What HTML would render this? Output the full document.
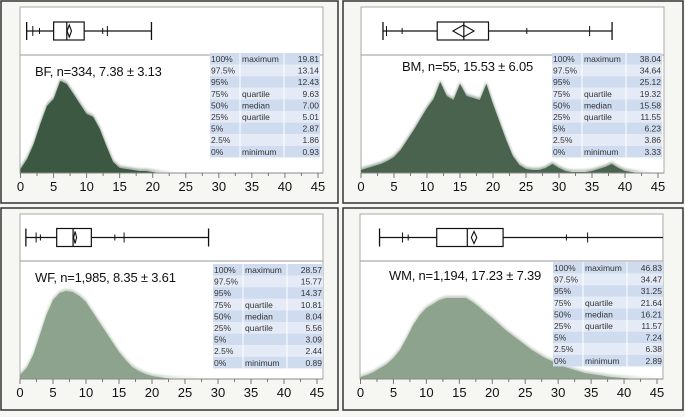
<!DOCTYPE html>
<html><head><meta charset="utf-8"><style>
html,body{margin:0;padding:0;background:#f6f6f2;}
svg{display:block;font-family:"Liberation Sans",sans-serif;}
</style></head><body>
<svg id="c" width="685" height="417" viewBox="0 0 685 417"></svg>
<script>
const grid = [];
for (let i = 0; i <= 45; i++) grid.push(i);
const tickLabels = [0,5,10,15,20,25,30,35,40,45];
const quantLabels = ["100%","97.5%","95%","75%","50%","25%","5%","2.5%","0%"];
const quantNames = ["maximum","","","quartile","median","quartile","","","minimum"];

const bfQuant = [19.81,13.14,12.43,9.63,7.00,5.01,2.87,1.86,0.93];
const bmQuant = [38.04,34.64,25.12,19.32,15.58,11.55,6.23,3.86,3.33];
const wfQuant = [28.57,15.77,14.37,10.81,8.04,5.56,3.09,2.44,0.89];
const wmQuant = [46.83,34.47,31.25,21.64,16.21,11.57,7.24,6.38,2.89];
const bfMean = 7.38, bmMean = 15.53, wfMean = 8.35, wmMean = 17.23;
const bfSd = 3.13, bmSd = 6.05, wfSd = 3.61, wmSd = 7.39;

const bfDens = [5,15,30,50,68,75,93,90,80,70,60,57,45,28,12,6,5,4,3,3,2,1,0.5,0,0,0,0,0,0,0,0,0,0,0,0,0,0,0,0,0,0,0,0,0,0,0];
const bmDens = [4,6,8,10,13,17,24,34,44,55,66,75,92,78,74,90,78,76,74,90,70,52,34,18,9,5,4,4,6,10,6,3,2,2,2,3,5,7,10,6,3,2,1,0.5,0,0];
const wfDens = [5,12,25,45,65,80,87,89,88,84,78,68,58,48,38,28,20,13,9,6,4,3,2,1.5,1,0.7,0.5,0.3,0.2,0,0,0,0,0,0,0,0,0,0,0,0,0,0,0,0,0];
const wmDens = [3,5,8,12,16,22,30,42,55,65,72,76,80,82,82,82,82,78,73,67,62,56,50,45,40,35,30,26,22,19,16,13,11,9,7,6,5,4,3,2.5,2,1.5,1,0.8,0.5,0.3];

const NS = "http://www.w3.org/2000/svg";
const svg = document.getElementById('c');
function mk(tag, attrs, parent){
  const e = document.createElementNS(NS, tag);
  for (const k in attrs) e.setAttribute(k, attrs[k]);
  (parent||svg).appendChild(e);
  return e;
}

const panels = [
  {id:"bf", label:"BF", n:"334", q:bfQuant, mean:bfMean, sd:bfSd, dens:bfDens, color:"#3d5842", ox:1, oy:1, ow:337, oh:202, px:20, py:7, x0:20.5, x45:318, sep:55, axis:173, tx:210, ty:53, title:[35,76]},
  {id:"bm", label:"BM", n:"55", q:bmQuant, mean:bmMean, sd:bmSd, dens:bmDens, color:"#4a634f", ox:343, oy:1, ow:340, oh:202, px:361, py:7, x0:361, x45:658, sep:55, axis:173, tx:552, ty:53, title:[402,71]},
  {id:"wf", label:"WF", n:"1,985", q:wfQuant, mean:wfMean, sd:wfSd, dens:wfDens, color:"#8ea38e", ox:1, oy:208, ow:337, oh:202, px:20, py:214, x0:20, x45:317, sep:261, axis:379, tx:213, ty:264, title:[35,282]},
  {id:"wm", label:"WM", n:"1,194", q:wmQuant, mean:wmMean, sd:wmSd, dens:wmDens, color:"#8ea38e", ox:343, oy:208, ow:340, oh:202, px:360, py:214, x0:360.5, x45:657, sep:261, axis:379, tx:553, ty:262, title:[389,280]}
];

const defs = mk('defs', {});
const f = mk('filter', {id:'soft', x:'-5%', y:'-5%', width:'110%', height:'110%'}, defs);
mk('feGaussianBlur', {stdDeviation:'1.2'}, f);

panels.forEach(p => {
  const g = mk('g', {});
  
  
  const sx = v => p.x0 + (p.x45 - p.x0) * v / 45;
  const cp = mk('clipPath', {id:'clip-'+p.id}, defs);
  mk('rect', {x:p.px, y:p.py, width:303, height:p.axis-p.py}, cp);
  const frame = mk('rect', {x:p.ox, y:p.oy, width:p.ow, height:p.oh, fill:'#f6f6f2', stroke:'#333', 'stroke-width':1.5}, g);
  
  
  const plot = mk('rect', {x:p.px, y:p.py, width:303, height:p.axis - p.py, fill:'#fff', stroke:'#aaa', 'stroke-width':1}, g);
  
  
  mk('line', {x1:p.px, x2:p.px+303, y1:p.sep, y2:p.sep, stroke:'#999', 'stroke-width':1}, g);

  const inner = mk('g', {'clip-path':'url(#clip-'+p.id+')'}, g);
  // density
  const base = p.axis - 1;
  let d = 'M' + sx(grid[0]) + ',' + base;
  grid.forEach((v, i) => { d += ' L' + sx(v).toFixed(1) + ',' + (base - p.dens[i]).toFixed(1); });
  d += ' L' + sx(grid[grid.length-1]) + ',' + base + ' Z';
  const dp = mk('path', {d:d, fill:p.color, opacity:0.55, filter:'url(#soft)'}, inner);
  
  
  const dp2 = mk('path', {d:d, fill:p.color, transform:'translate(0,2)'}, inner);
  
  

  // axis
  mk('line', {x1:p.px, x2:p.px+303, y1:p.axis, y2:p.axis, stroke:'#888', 'stroke-width':1}, g);
  for (let v = 0; v <= 45; v += 2.5) {
    const major = v % 5 === 0;
    mk('line', {x1:sx(v), x2:sx(v), y1:p.axis, y2:p.axis + (major?5:3), stroke:'#777', 'stroke-width':1}, g);
  }
  tickLabels.forEach(v => {
    const t = mk('text', {x:sx(v), y:p.axis + 18, 'font-size':13, 'text-anchor':'middle', fill:'#111'}, g);
    t.textContent = v;
    
    
  });

  // box plot
  const cy = (p.py + p.sep) / 2;
  const q = p.q;
  mk('line', {x1:sx(q[8]), x2:sx(q[0]), y1:cy, y2:cy, stroke:'#111', 'stroke-width':1.2}, inner);
  [0,8].forEach(i => mk('line', {x1:sx(q[i]), x2:sx(q[i]), y1:cy-9, y2:cy+9, stroke:'#111', 'stroke-width':1.3}, inner));
  [1,2,6,7].forEach(i => mk('line', {x1:sx(q[i]), x2:sx(q[i]), y1:cy-(i===1||i===7?5:3), y2:cy+(i===1||i===7?5:3), stroke:'#111', 'stroke-width':1}, inner));
  const box = mk('rect', {x:sx(q[5]), y:cy-9, width:sx(q[3])-sx(q[5]), height:18, fill:'#fff', stroke:'#111', 'stroke-width':1.2}, inner);
  
  
  mk('line', {x1:sx(q[4]), x2:sx(q[4]), y1:cy-9, y2:cy+9, stroke:'#111', 'stroke-width':1.2}, inner);
  const hw = Math.max(1.5, (sx(p.mean+1.96*p.sd/Math.sqrt(parseInt(p.n.replace(',',''))))-sx(p.mean)));
  const dm = mk('path', {d:`M${sx(p.mean)-hw},${cy} L${sx(p.mean)},${cy-6} L${sx(p.mean)+hw},${cy} L${sx(p.mean)},${cy+6} Z`, fill:'none', stroke:'#111', 'stroke-width':1.1}, inner);
  
  

  // title
  const tt = mk('text', {x:p.title[0], y:p.title[1], 'font-size':13, 'letter-spacing':'-0.2', fill:'#111'}, g);
  tt.textContent = `${p.label}, n=${p.n}, ${p.mean.toFixed(2)} ± ${p.sd.toFixed(2)}`;
  
  

  // table
  const tw = 110, rh = 11.6;
  quantLabels.forEach((lab, i) => {
    const y = p.ty + i*rh;
    mk('rect', {x:p.tx, y:y, width:tw, height:rh, fill: i%2===0 ? '#cfdbee' : '#e5ebf6'}, g);
    const a = mk('text', {x:p.tx+1, y:y+9, 'font-size':8.5, fill:'#333'}, g);
    a.textContent = lab;
    const b = mk('text', {x:p.tx+32, y:y+9, 'font-size':8.5, fill:'#333'}, g);
    b.textContent = quantNames[i];
    const c = mk('text', {x:p.tx+tw-1, y:y+9, 'font-size':8.5, fill:'#333', 'text-anchor':'end'}, g);
    c.textContent = q[i].toFixed(2);
  });
  mk('line', {x1:p.tx+30, x2:p.tx+30, y1:p.ty, y2:p.ty+9*rh, stroke:'#fff', 'stroke-width':1}, g);
  mk('line', {x1:p.tx+74, x2:p.tx+74, y1:p.ty, y2:p.ty+9*rh, stroke:'#fff', 'stroke-width':1}, g);
});
</script>
</body></html>
